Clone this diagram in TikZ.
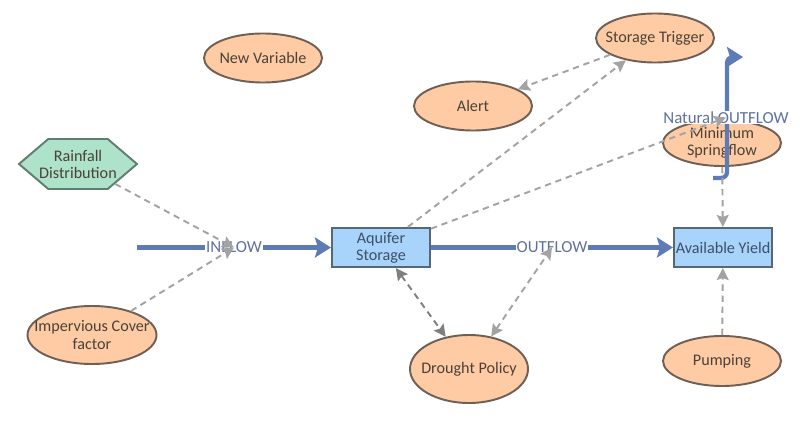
\documentclass[tikz,border=0pt]{standalone}
\usepackage{fontspec}
\setmainfont{Carlito}
\usepackage{tikz}
\usetikzlibrary{arrows.meta}
\usetikzlibrary{shapes.geometric}
\usetikzlibrary{shapes.symbols}

\definecolor{convFill}{HTML}{FFCBA4}
\definecolor{convLine}{HTML}{6E6055}
\definecolor{convText}{HTML}{4A4238}
\definecolor{stockFill}{HTML}{A8D3FA}
\definecolor{stockLine}{HTML}{566878}
\definecolor{stockText}{HTML}{3C5068}
\definecolor{hexFill}{HTML}{AEE2CA}
\definecolor{hexLine}{HTML}{5E7E70}
\definecolor{flowBlue}{HTML}{5D7CB6}
\definecolor{flowText}{HTML}{5F739F}
\definecolor{linkGrey}{HTML}{A3A3A3}
\definecolor{linkDark}{HTML}{7F7F7F}

\tikzset{
	every node/.style={font=\fontsize{9.2}{9.7}\selectfont, align=center},
	conv/.style={ellipse, draw=convLine, line width=1.1pt, fill=convFill, text=convText, inner xsep=-10pt, inner ysep=-1pt, minimum width=118*0.02cm, minimum height=49*0.02cm},
	stock/.style={rectangle, draw=stockLine, line width=1.2pt, fill=stockFill, text=stockText, inner sep=0pt, minimum width=98*0.02cm, minimum height=39*0.02cm},
	hexconv/.style={signal, signal to=west and east, signal pointer angle=81, draw=hexLine, line width=1.1pt, fill=hexFill, text=convText, inner xsep=-7.5pt, inner ysep=0pt, minimum width=118*0.02cm, minimum height=50*0.02cm},
	flow/.style={draw=flowBlue, line width=2.4pt, -{Stealth[length=16*0.02cm, width=20*0.02cm, inset=3*0.02cm]}},
	flowlabel/.style={fill=white, text=flowText, inner sep=0.5pt, font=\fontsize{9.6}{11}\selectfont},
	link/.style={draw=linkGrey, line width=1.1pt, dash pattern=on 3.6pt off 2.7pt, -{Stealth[length=12*0.02cm, width=12*0.02cm, inset=2*0.02cm]}},
	twolink/.style={link, {Stealth[length=12*0.02cm, width=12*0.02cm, inset=2*0.02cm]}-{Stealth[length=12*0.02cm, width=12*0.02cm, inset=2*0.02cm]}},
}

\begin{document}
\begin{tikzpicture}[x=0.02cm, y=-0.02cm]
	
	% Ensure the dimensions of graphic are appropriate
	\useasboundingbox (0,0) rectangle (800,425);
	
	% ----------------
	% Converters
	\node[conv] (NewVariable) at (263,58) {New Variable};
	\node[conv] (StorageTrigger) at (655,38) {Storage Trigger};
	\node[conv] (Alert) at (473,106) {Alert};
	\node[conv, minimum height=46*0.02cm] (Springflow) at (722,143) {Minimum\\Springflow};
	\node[conv, minimum width=129*0.02cm, minimum height=58*0.02cm] (Impervious) at (92,335) {Impervious Cover\\factor};
	\node[conv, minimum height=68*0.02cm] (Drought) at (469,369) {Drought Policy};
	\node[conv, minimum height=50*0.02cm] (Pumping) at (722,361) {Pumping};
	\node[hexconv] (Rainfall) at (78,164) {Rainfall\\Distribution};
	
	% ----------------
	% Stocks
	\node[stock] (Aquifer) at (381,247.5) {Aquifer\\Storage};
	\node[stock] (Yield) at (723,247.5) {Available Yield};
	
	% ----------------
	% Relevant coordinates
	\coordinate (InBeg) at (137,247.5);
	\coordinate (NatBeg) at (713,178);
	\coordinate (NatTop) at (727,57);
	\coordinate (NatTip) at (743,57);
	
	%%%%%%%%%%%%%%%%%%%%%%%%%%%%%%%%%%%%%%%%%
	% Flows
	\draw[flow] (InBeg) -- node[flowlabel] (Inflow) {INFLOW} (Aquifer);
	\draw[flow] (Aquifer) -- node[flowlabel] (Outflow) {OUTFLOW} (Yield);
	\draw[flow] (NatBeg) [rounded corners=6*0.02cm] -| (NatTop) [sharp corners] -- (NatTip);
	\node[flowlabel] (Natural) at (726,117.5) {Natural OUTFLOW};
	
	% ----------------
	% Links
	\draw[link] (Rainfall) -- (Inflow.center);
	\draw[link] (Impervious) -- (Inflow.center);
	\draw[link] (Aquifer) -- (StorageTrigger);
	\draw[link] (StorageTrigger) -- (Alert);
	\draw[link] (Aquifer) -- (Natural.center);
	\draw[twolink, draw=linkDark] (Aquifer) -- (Drought);
	\draw[twolink] (Drought) -- (Outflow.center);
	\draw[link] (Springflow) -- (Yield);
	\draw[link] (Pumping) -- (Yield);
	
\end{tikzpicture}
\end{document}
